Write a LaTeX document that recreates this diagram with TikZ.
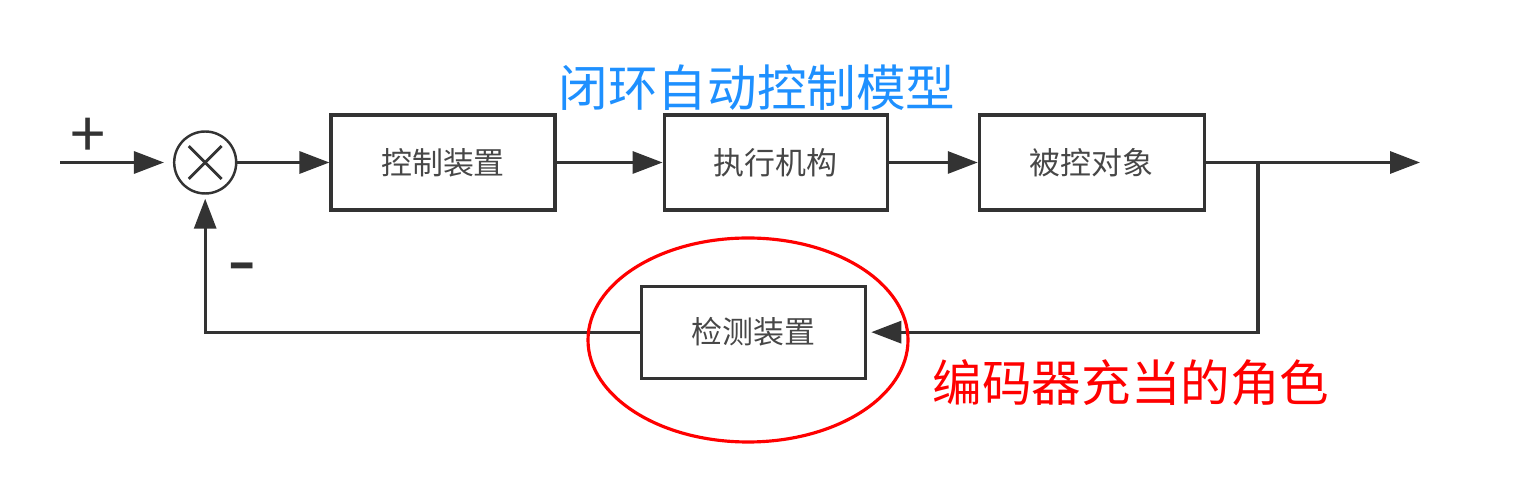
\documentclass[tikz,border=0pt]{standalone}
\usepackage{fontspec}
\setmainfont{Noto Sans CJK SC}
\usepackage{tikz}
\usetikzlibrary{arrows.meta, positioning}
\usetikzlibrary{shapes.geometric}
\usepackage{xcolor}
\definecolor{titleblue}{HTML}{1E90FF}
\definecolor{linegray}{HTML}{333333}

\begin{document}
\begin{tikzpicture}[>={Triangle[length=3mm,width=2.2mm]},
  every node/.style={font=\fontsize{8.8pt}{10pt}\selectfont},
  block/.style={draw=linegray, line width=0.9pt, minimum width=2.24cm, minimum height=0.95cm, text=black!72},
  sum/.style={draw=linegray, circle, line width=0.7pt, minimum size=0.62cm, inner sep=0pt},
  sig/.style={draw=linegray, line width=0.9pt}]
  \useasboundingbox (0,0) rectangle (15.16,-4.77);

  % Forward path
  \node (ctrl) [block] at (4.43,-1.625) {控制装置};
  \node (sum) [sum, left=0.92cm of ctrl] {};
  \node (act) [block, right=1.06cm of ctrl, minimum width=2.23cm] {执行机构};
  \node (plant) [block, right=0.89cm of act, minimum width=2.25cm] {被控对象};
  \draw[linegray, line width=0.8pt, shorten >=0.9mm, shorten <=0.9mm] (sum.135) -- (sum.-45);
  \draw[linegray, line width=0.8pt, shorten >=0.9mm, shorten <=0.9mm] (sum.45) -- (sum.-135);

  \coordinate (in) at (0.60,-1.625);
  \coordinate (branch) at (12.58,-1.625);
  \coordinate (out) at (14.20,-1.625);

  % Arrows
  \draw[sig, ->, shorten >=0.9mm] (in) -- (sum);
  \draw[sig, ->] (sum) -- (ctrl);
  \draw[sig, ->] (ctrl) -- (act);
  \draw[sig, ->] (act) -- (plant);
  \draw[sig, ->] (plant) -- (out);

  % Feedback path
  \node (sensor) [block, below=0.73cm of act, xshift=-0.22cm, minimum height=0.92cm] {检测装置};
  \draw[sig, ->, shorten >=0.4mm] (branch) |- (sensor.east);
  \draw[sig, ->, shorten >=0.4mm] (sensor.west) -| (sum.south);

  % Signs
  \node (plus) at (0.88,-1.38) {\fontsize{18pt}{18pt}\selectfont\color{linegray}+};
  \node (minus) at (2.42,-2.76) {\fontsize{24pt}{24pt}\selectfont\color{linegray}-};

  % Annotations
  \node (title) at (7.57,-0.88) {\fontsize{14.1pt}{16pt}\selectfont\color{titleblue}闭环自动控制模型};
  \node (hl) [draw=red, ellipse, line width=0.9pt, minimum width=3.2cm, minimum height=2.04cm, inner sep=0pt] at (7.48,-3.40) {};
  \node (note) at (11.31,-3.83) {\fontsize{14.1pt}{16pt}\selectfont\color{red}编码器充当的角色};
\end{tikzpicture}
\end{document}
